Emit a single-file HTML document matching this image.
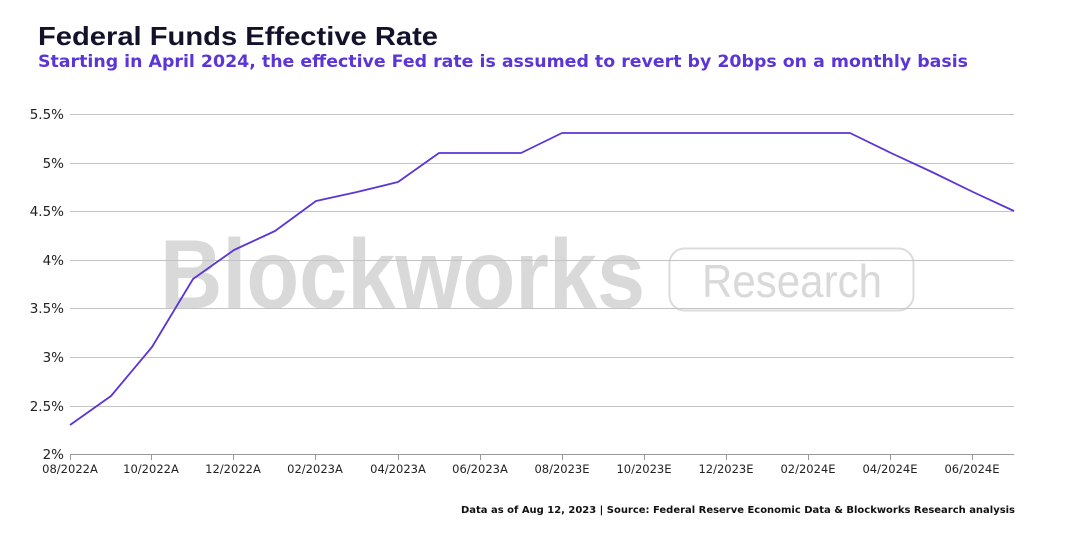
<!DOCTYPE html>
<html><head><meta charset="utf-8"><style>
html,body{margin:0;padding:0;background:#fff;}
body{width:1090px;height:545px;overflow:hidden;font-family:"Liberation Sans",sans-serif;}
</style></head><body>
<svg width="1090" height="545" xmlns="http://www.w3.org/2000/svg" font-family="Liberation Sans, sans-serif">
<text x="38" y="45" font-size="26" font-weight="bold" fill="#14112b" textLength="400" lengthAdjust="spacingAndGlyphs">Federal Funds Effective Rate</text>
<text x="38" y="67" font-size="17" font-weight="bold" fill="#5b35d5" font-family="DejaVu Sans, sans-serif" textLength="930" lengthAdjust="spacingAndGlyphs">Starting in April 2024, the effective Fed rate is assumed to revert by 20bps on a monthly basis</text>
<!-- watermark -->
<text x="160" y="308" font-size="98" font-weight="bold" fill="#d9d9d9" textLength="485" lengthAdjust="spacingAndGlyphs">Blockworks</text>
<rect x="669.5" y="248.5" width="244" height="62" rx="15" fill="none" stroke="#dcdcdc" stroke-width="2"/>
<text x="702" y="297" font-size="46" fill="#d9d9d9" textLength="180" lengthAdjust="spacingAndGlyphs">Research</text>
<g stroke="#c4c4c4" stroke-width="1">
<line x1="70" x2="1014" y1="114.5" y2="114.5"/>
<line x1="70" x2="1014" y1="163.5" y2="163.5"/>
<line x1="70" x2="1014" y1="211.5" y2="211.5"/>
<line x1="70" x2="1014" y1="260.5" y2="260.5"/>
<line x1="70" x2="1014" y1="308.5" y2="308.5"/>
<line x1="70" x2="1014" y1="357.5" y2="357.5"/>
<line x1="70" x2="1014" y1="406.5" y2="406.5"/>
</g>
<line x1="70" x2="1014" y1="454.5" y2="454.5" stroke="#999" stroke-width="1"/>
<g font-size="13.5" fill="#222" text-anchor="end" font-family="DejaVu Sans, sans-serif">
<text x="64" y="119">5.5%</text><text x="64" y="168">5%</text><text x="64" y="216">4.5%</text>
<text x="64" y="265">4%</text><text x="64" y="313">3.5%</text><text x="64" y="362">3%</text>
<text x="64" y="411">2.5%</text><text x="64" y="459">2%</text>
</g>
<g stroke="#999"><line x1="70.5" x2="70.5" y1="454" y2="460"/><line x1="151.5" x2="151.5" y1="454" y2="460"/><line x1="233.5" x2="233.5" y1="454" y2="460"/><line x1="315.5" x2="315.5" y1="454" y2="460"/><line x1="398.5" x2="398.5" y1="454" y2="460"/><line x1="480.5" x2="480.5" y1="454" y2="460"/><line x1="562.5" x2="562.5" y1="454" y2="460"/><line x1="644.5" x2="644.5" y1="454" y2="460"/><line x1="726.5" x2="726.5" y1="454" y2="460"/><line x1="808.5" x2="808.5" y1="454" y2="460"/><line x1="890.5" x2="890.5" y1="454" y2="460"/><line x1="972.5" x2="972.5" y1="454" y2="460"/></g>
<g font-size="11.5" fill="#222" text-anchor="middle" font-family="DejaVu Sans, sans-serif">
<text x="70" y="473">08/2022A</text><text x="151" y="473">10/2022A</text><text x="233" y="473">12/2022A</text>
<text x="315" y="473">02/2023A</text><text x="398" y="473">04/2023A</text><text x="480" y="473">06/2023A</text>
<text x="562" y="473">08/2023E</text><text x="644" y="473">10/2023E</text><text x="726" y="473">12/2023E</text>
<text x="808" y="473">02/2024E</text><text x="890" y="473">04/2024E</text><text x="972" y="473">06/2024E</text>
</g>
<polyline fill="none" stroke="#5b35d5" stroke-width="1.8" stroke-linejoin="round" points="70,425 111,396 152,347 193,279 234,250 275,231 316,201 357,192 398,182 439,153 480,153 521,153 562,133 604,133 645,133 686,133 727,133 768,133 809,133 850,133 891,153 932,172 973,192 1014,211"/>
<text x="461" y="513" font-size="9.5" font-weight="bold" fill="#111" font-family="DejaVu Sans, sans-serif" textLength="554" lengthAdjust="spacingAndGlyphs">Data as of Aug 12, 2023 | Source: Federal Reserve Economic Data &amp; Blockworks Research analysis</text>
</svg>
</body></html>
